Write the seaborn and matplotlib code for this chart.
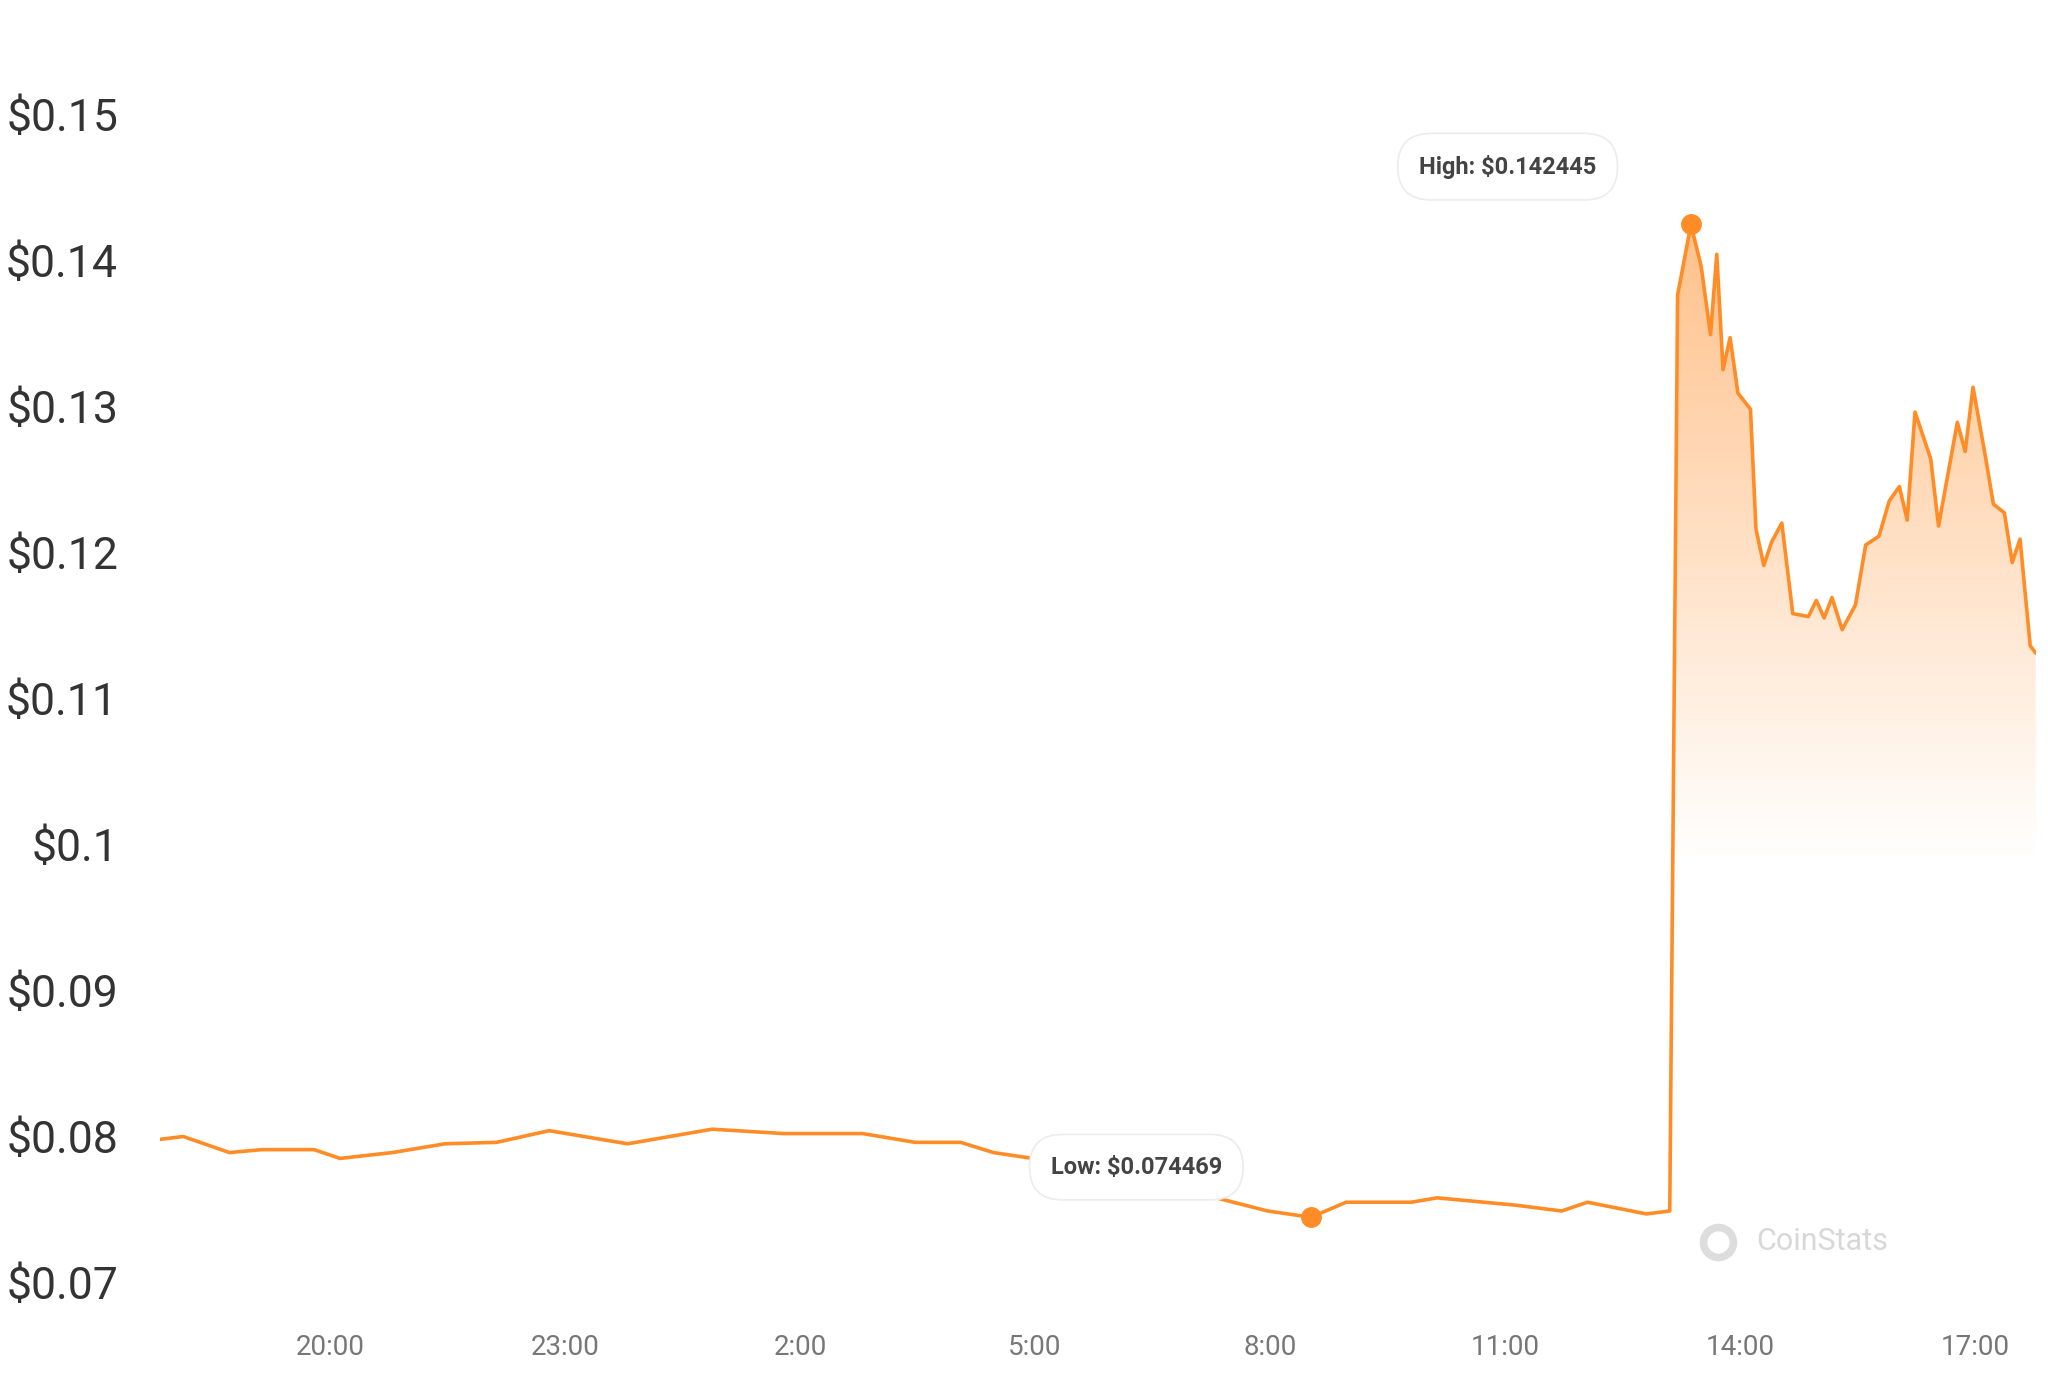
import numpy as np
import pandas as pd
import matplotlib
matplotlib.use("Agg")
import matplotlib.pyplot as plt
import seaborn as sns

sns.set_theme(style="white")
plt.rcParams["font.family"] = ["Roboto", "DejaVu Sans"]

# hours since 20:00 on day one, and price in USD
hours = [-2.17, -1.87, -1.28, -0.87, -0.2, 0.13, 0.8, 1.47, 2.13, 2.8, 3.8, 4.88, 5.8, 6.8,
         7.47, 8.05, 8.47, 8.97, 9.47, 10.8, 11.97, 12.52, 12.97, 13.8, 14.13, 15.13, 15.72,
         16.05, 16.8, 17.1, 17.2, 17.37, 17.5, 17.62, 17.7, 17.78, 17.87, 17.97, 18.13, 18.2,
         18.3, 18.4, 18.53, 18.67, 18.87, 18.97, 19.07, 19.17, 19.3, 19.47, 19.6, 19.77, 19.9,
         20.03, 20.13, 20.23, 20.43, 20.53, 20.77, 20.87, 20.97, 21.13, 21.23, 21.37, 21.47,
         21.57, 21.7, 21.77]
prices = [0.0798, 0.0800, 0.0789, 0.0791, 0.0791, 0.0785, 0.0789, 0.0795, 0.0796, 0.0804,
          0.0795, 0.0805, 0.0802, 0.0802, 0.0796, 0.0796, 0.0789, 0.0785, 0.0778, 0.0765,
          0.0749, 0.074469, 0.0755, 0.0755, 0.0758, 0.0753, 0.0749, 0.0755, 0.0747, 0.0749,
          0.1376, 0.142445, 0.1396, 0.1349, 0.1404, 0.1325, 0.1347, 0.1309, 0.1298, 0.1216,
          0.1191, 0.1207, 0.1220, 0.1158, 0.1156, 0.1167, 0.1155, 0.1169, 0.1147, 0.1164,
          0.1205, 0.1211, 0.1235, 0.1245, 0.1222, 0.1296, 0.1264, 0.1218, 0.1289, 0.1269,
          0.1313, 0.1265, 0.1233, 0.1227, 0.1193, 0.1209, 0.1136, 0.1131]
x_ticks = [0, 3, 6, 9, 12, 15, 18, 21]
x_labels = ["20:00", "23:00", "2:00", "5:00", "8:00", "11:00", "14:00", "17:00"]
y_ticks = [0.07, 0.08, 0.09, 0.10, 0.11, 0.12, 0.13, 0.14, 0.15]
y_labels = ["$0.07", "$0.08", "$0.09", "$0.1", "$0.11", "$0.12", "$0.13", "$0.14", "$0.15"]
low_h, low_p = 12.52, 0.074469
high_h, high_p = 17.37, 0.142445

df = pd.DataFrame({"h": hours, "p": prices})
orange = "#FF8C26"

fig = plt.figure(figsize=(20.48, 13.89), dpi=100)
ax = fig.add_axes([0.078, 0.0535, 0.916, 0.9085])
ylo, yhi = 0.0678, 0.1542
xlo, xhi = -2.17, 21.77

# gradient fill under the spike (strong at the top, fading out near $0.10)
grad = np.ones((256, 1, 4))
grad[:, 0, :3] = matplotlib.colors.to_rgb(orange)
grad[:, 0, 3] = np.clip(np.linspace(0.55, -0.3, 256), 0, 1)
im = ax.imshow(grad, extent=[17.1, xhi, 0.0747, 0.1431], origin="upper",
               aspect="auto", zorder=1)
right = df[df.h >= 17.1]
poly = np.vstack([[17.1, ylo], right[["h", "p"]].values, [xhi, ylo]])
clip = plt.Polygon(poly, transform=ax.transData, facecolor="none", edgecolor="none")
ax.add_patch(clip)
im.set_clip_path(clip)

sns.lineplot(data=df, x="h", y="p", color=orange, lw=2.6, ax=ax, zorder=3)
ax.plot([low_h, high_h], [low_p, high_p], "o", color=orange, ms=14, zorder=6)

box = dict(boxstyle="round,pad=0.9,rounding_size=1.4", fc="white", ec="#ececec", lw=1.2)
ax.text(13.9, 0.1464, "High: $0.142445", fontsize=17, fontweight="bold",
        color="#444444", va="center", bbox=box, zorder=5)
ax.text(9.2, 0.0779, "Low: $0.074469", fontsize=17, fontweight="bold",
        color="#444444", va="center", bbox=box, zorder=5)

# watermark
ax.plot([17.72], [0.0728], "o", ms=26, color="#dddddd", zorder=2)
ax.plot([17.72], [0.0728], "o", ms=15, color="white", zorder=2)
ax.text(18.2, 0.0728, "CoinStats", fontsize=22, color="#d8d8d8", va="center", zorder=2)

ax.set_xlim(xlo, xhi)
ax.set_ylim(ylo, yhi)
ax.set_xticks(x_ticks)
ax.set_xticklabels(x_labels, fontsize=20, color="#777777")
ax.set_yticks(y_ticks)
ax.set_yticklabels(y_labels, fontsize=32, color="#333333")
ax.tick_params(axis="y", pad=30, length=0)
ax.tick_params(axis="x", pad=14, length=0)
ax.set_xlabel("")
ax.set_ylabel("")
for s in ax.spines.values():
    s.set_visible(False)
ax.grid(False)

fig.savefig("out.png", dpi=100, facecolor="white")
